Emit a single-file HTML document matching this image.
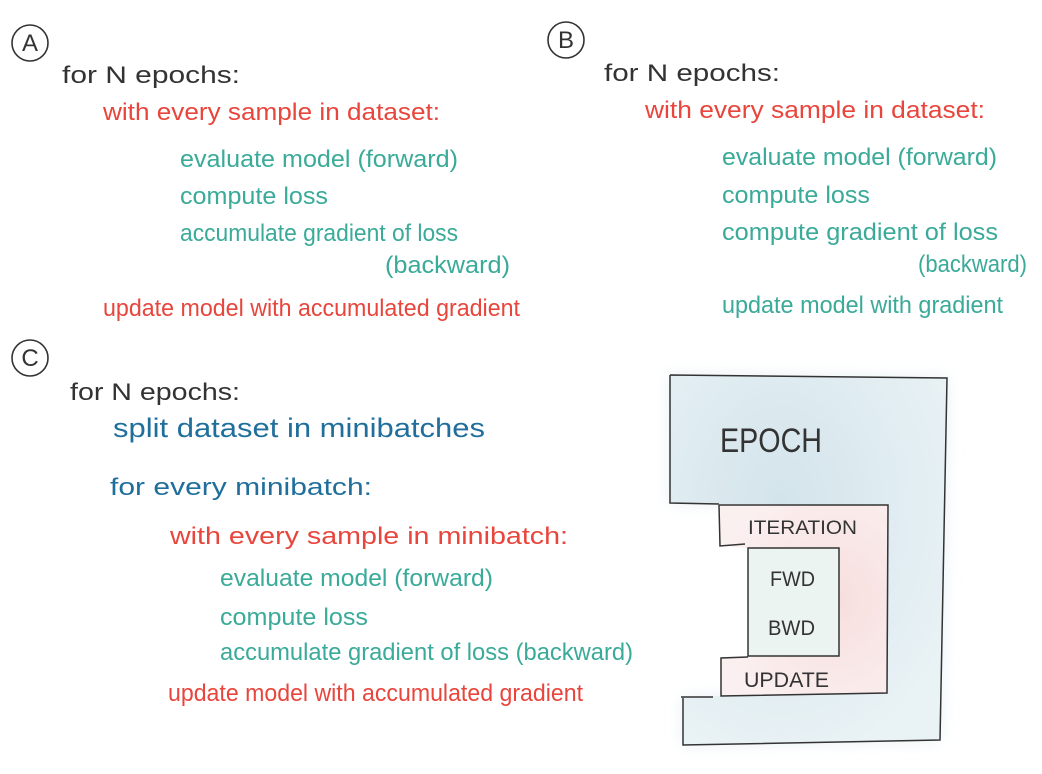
<!DOCTYPE html>
<html><head><meta charset="utf-8"><style>html,body{margin:0;padding:0;background:#fff}svg{display:block}</style></head>
<body>
<svg width="1042" height="774" xmlns="http://www.w3.org/2000/svg" font-family="Liberation Sans, sans-serif">
<defs>
<radialGradient id="bl" cx="0.4" cy="0.35" r="0.7"><stop offset="0" stop-color="#d3e4eb"/><stop offset="1" stop-color="#e9f2f5"/></radialGradient>
<radialGradient id="rd" cx="0.7" cy="0.5" r="0.7"><stop offset="0" stop-color="#f7dede"/><stop offset="1" stop-color="#fbf0f0"/></radialGradient>
<filter id="blur"><feGaussianBlur stdDeviation="8"/></filter>
</defs>
<g fill="none" stroke="#333" stroke-width="1.6">
<circle cx="30" cy="43" r="18"/><circle cx="566" cy="40" r="18"/><circle cx="30" cy="358" r="18"/>
</g>
<g font-size="24" fill="#333" text-anchor="middle"><text x="30" y="51">A</text><text x="566" y="48">B</text><text x="30" y="366">C</text></g>
<g font-size="24">
<text x="62" y="83" fill="#333" textLength="178" lengthAdjust="spacingAndGlyphs">for N epochs:</text>
<text x="103" y="120" fill="#e8453c" textLength="337" lengthAdjust="spacingAndGlyphs">with every sample in dataset:</text>
<text x="180" y="167" fill="#3aaa99" textLength="278" lengthAdjust="spacingAndGlyphs">evaluate model (forward)</text>
<text x="180" y="204" fill="#3aaa99" textLength="148" lengthAdjust="spacingAndGlyphs">compute loss</text>
<text x="180" y="241" fill="#3aaa99" textLength="278" lengthAdjust="spacingAndGlyphs">accumulate gradient of loss</text>
<text x="385" y="273" fill="#3aaa99" textLength="125" lengthAdjust="spacingAndGlyphs">(backward)</text>
<text x="103" y="316" fill="#e8453c" textLength="417" lengthAdjust="spacingAndGlyphs">update model with accumulated gradient</text>

<text x="604" y="81" fill="#333" textLength="176" lengthAdjust="spacingAndGlyphs">for N epochs:</text>
<text x="645" y="118" fill="#e8453c" textLength="340" lengthAdjust="spacingAndGlyphs">with every sample in dataset:</text>
<text x="722" y="165" fill="#3aaa99" textLength="275" lengthAdjust="spacingAndGlyphs">evaluate model (forward)</text>
<text x="722" y="203" fill="#3aaa99" textLength="148" lengthAdjust="spacingAndGlyphs">compute loss</text>
<text x="722" y="240" fill="#3aaa99" textLength="276" lengthAdjust="spacingAndGlyphs">compute gradient of loss</text>
<text x="918" y="272" fill="#3aaa99" textLength="109" lengthAdjust="spacingAndGlyphs">(backward)</text>
<text x="722" y="313" fill="#3aaa99" textLength="281" lengthAdjust="spacingAndGlyphs">update model with gradient</text>

<text x="70" y="400" fill="#333" textLength="170" lengthAdjust="spacingAndGlyphs">for N epochs:</text>
<text x="113" y="437" fill="#1f6e9c" font-size="27" textLength="372" lengthAdjust="spacingAndGlyphs">split dataset in minibatches</text>
<text x="110" y="495" fill="#1f6e9c" textLength="262" lengthAdjust="spacingAndGlyphs">for every minibatch:</text>
<text x="170" y="544" fill="#e8453c" textLength="398" lengthAdjust="spacingAndGlyphs">with every sample in minibatch:</text>
<text x="220" y="586" fill="#3aaa99" textLength="273" lengthAdjust="spacingAndGlyphs">evaluate model (forward)</text>
<text x="220" y="625" fill="#3aaa99" textLength="148" lengthAdjust="spacingAndGlyphs">compute loss</text>
<text x="220" y="660" fill="#3aaa99" textLength="413" lengthAdjust="spacingAndGlyphs">accumulate gradient of loss (backward)</text>
<text x="168" y="701" fill="#e8453c" textLength="415" lengthAdjust="spacingAndGlyphs">update model with accumulated gradient</text>
</g>
<!-- diagram -->
<path d="M670,375 L947,378 L940,740 L683,745 L683,698 L721,696 L887,693 L888,505 L719,504 L670,503 Z" fill="#e6f0f4" filter="url(#blur)"/>
<path d="M670,375 L947,378 L940,740 L683,745 L683,698 L721,696 L887,693 L888,505 L719,504 L670,503 Z" fill="url(#bl)"/>
<path d="M719,504 L888,505 L887,693 L721,696 L721,658 L748,658 L748,548 L719,546 Z" fill="url(#rd)"/>
<rect x="748" y="548" width="91" height="108" fill="#ebf4f1"/>
<g fill="none" stroke="#333" stroke-width="1.5">
<path d="M681,697 L713,697 M670,375 L947,378 L940,740 L683,745 L683,698 M670,375 L670,503 L719,504"/>
<path d="M719,505 L888,505 L887,693 L721,696 L721,658 L748,657 M719,505 L720,546 L745,544"/>
<path d="M748,548 L839,548 L839,656 L748,656 Z"/>
</g>
<g fill="#333">
<text x="720" y="452" font-size="34" textLength="102" lengthAdjust="spacingAndGlyphs">EPOCH</text>
<text x="748" y="534" font-size="19" textLength="109" lengthAdjust="spacingAndGlyphs">ITERATION</text>
<text x="770" y="586" font-size="21" textLength="45" lengthAdjust="spacingAndGlyphs">FWD</text>
<text x="768" y="635" font-size="21" textLength="47" lengthAdjust="spacingAndGlyphs">BWD</text>
<text x="744" y="687" font-size="21" textLength="85" lengthAdjust="spacingAndGlyphs">UPDATE</text>
</g>
</svg>
</body></html>
